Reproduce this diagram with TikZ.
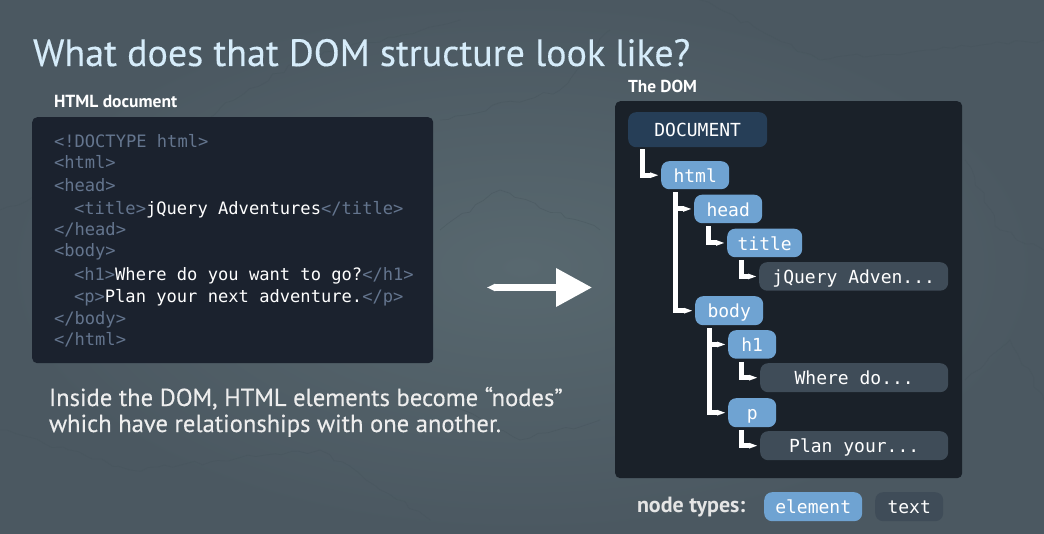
\documentclass[tikz,border=0pt]{standalone}
\usepackage{fontspec}
\usetikzlibrary{arrows.meta,decorations.pathmorphing}
\setmainfont{PT Sans}
\newfontfamily\medfont[FakeBold=0.25]{PT Sans}
\newfontfamily\mono{DejaVu Sans Mono}
\definecolor{bgin}{HTML}{58686F}
\definecolor{bgout}{HTML}{4B5861}
\definecolor{crack}{HTML}{46545C}
\definecolor{titlec}{HTML}{D6ECFA}
\definecolor{codebox}{HTML}{1B222E}
\definecolor{dombox}{HTML}{1A2129}
\definecolor{docc}{HTML}{263E57}
\definecolor{elemc}{HTML}{6FA3D2}
\definecolor{textc}{HTML}{3F4C58}
\definecolor{tagc}{HTML}{64758E}
\tikzset{
  x=1pt,y=-1pt,
  panel/.style={fill=#1,rounded corners=5pt},
  label/.style={anchor=base west,inner sep=0pt,outer sep=0pt,text=white},
  codeline/.style={label,text=tagc,font=\mono\fontsize{17.1}{20}\selectfont},
  tnode/.style={rounded corners=8pt,inner sep=0pt,text=white,font=\mono\fontsize{18}{21}\selectfont,text depth=0pt,text height=14.5pt,align=center},
  elemnode/.style={tnode,fill=elemc},
  textnode/.style={tnode,fill=textc},
  conn/.style={draw=white,line width=5pt,-{Triangle[length=9pt,width=5pt]},shorten >=2pt},
  texture/.style={draw=crack,opacity=.45,line width=.7pt,decorate,decoration={random steps,segment length=9pt,amplitude=2.5pt}},
}
\pgfmathsetseed{7}
\begin{document}
\begin{tikzpicture}
\useasboundingbox (0,0) rectangle (1044,534);
\shade[inner color=bgin,outer color=bgout] (0,0) rectangle (1044,534);
% background texture
\draw[texture] (0,210) -- (120,170) -- (300,60) -- (460,20);
\draw[texture] (440,120) -- (560,90) -- (610,30);
\draw[texture] (440,400) -- (520,440) -- (600,420);
\draw[texture] (0,430) -- (130,470) -- (320,450) -- (430,520);
\draw[texture] (965,160) -- (1000,230) -- (1044,250);
\draw[texture] (965,380) -- (1010,340) -- (1044,400);
\draw[texture] (700,0) -- (820,60) -- (1044,40);
\draw[texture] (440,230) -- (500,190) -- (600,230);
% titles
\node[label,text=titlec,font=\medfont\fontsize{38}{44}\selectfont] (title text) at (33,66) {What does that DOM structure look like?};
\node[label,font=\bfseries\fontsize{17.5}{20}\selectfont] (html head) at (54,108) {HTML document};
\node[label,font=\bfseries\fontsize{17.3}{20}\selectfont] (dom head) at (628,93) {The DOM};
% code panel
\node[panel=codebox,anchor=north west,minimum width=401pt,minimum height=246pt,inner sep=0pt] (code panel) at (32,117) {};
\node[codeline] (c1) at (54,148) {<!DOCTYPE html>};
\node[codeline] (c2) at (54,169) {<html>};
\node[codeline] (c3) at (54,191.5) {<head>};
\node[codeline] (c4) at (74,214.5) {<title>\textcolor{white}{jQuery Adventures}</title>};
\node[codeline] (c5) at (54,236) {</head>};
\node[codeline] (c6) at (54,257) {<body>};
\node[codeline] (c7) at (74,280.5) {<h1>\textcolor{white}{Where do you want to go?}</h1>};
\node[codeline] (c8) at (74,302.5) {<p>\textcolor{white}{Plan your next adventure.}</p>};
\node[codeline] (c9) at (54,324.5) {</body>};
\node[codeline] (c10) at (54,345.5) {</html>};
% caption
\node[label,text=white!93!black,font=\medfont\fontsize{24.6}{28}\selectfont] (cap1) at (49,406) {Inside the DOM, HTML elements become “nodes”};
\node[label,text=white!93!black,font=\medfont\fontsize{24.6}{28}\selectfont] (cap2) at (49,432) {which have relationships with one another.};
% big arrow
\coordinate (arrow start) at (487,287.5);
\coordinate (arrow tip) at (592,287.5);
\draw[line width=7pt,draw=white,fill=white,{Triangle[length=8pt,width=7pt]}-{Triangle[length=36pt,width=37pt]}] (arrow start) -- (arrow tip);
% DOM panel
\node[panel=dombox,anchor=north west,minimum width=347pt,minimum height=377pt,inner sep=0pt] (dom panel) at (615,101) {};
\node[tnode,fill=docc,anchor=north west,minimum width=139pt,minimum height=35pt] (document) at (628,112) {DOCUMENT};
\node[elemnode,anchor=north west,minimum width=68pt,minimum height=28pt] (html) at (661,161) {html};
\node[elemnode,anchor=north west,minimum width=68pt,minimum height=28.5pt] (head) at (694,194.5) {head};
\node[elemnode,anchor=north west,minimum width=75pt,minimum height=28.5pt] (titlenode) at (727,228.5) {title};
\node[textnode,anchor=north west,minimum width=189pt,minimum height=28.5pt] (jq) at (759,262) {jQuery Adven...};
\node[elemnode,anchor=north west,minimum width=68pt,minimum height=29pt] (body) at (695,296) {body};
\node[elemnode,anchor=north west,minimum width=48pt,minimum height=28.5pt] (h1) at (728,330) {h1};
\node[textnode,anchor=north west,minimum width=188pt,minimum height=29pt] (where) at (760,363) {Where do...};
\node[elemnode,anchor=north west,minimum width=48pt,minimum height=29pt] (p) at (728,398) {p};
\node[textnode,anchor=north west,minimum width=188pt,minimum height=29pt] (plan) at (760,431) {Plan your...};
% connectors
\draw[conn,shorten <=2pt] ([xshift=14pt]document.south west) |- (html.west);
\draw[conn,shorten <=3pt] ([xshift=14pt]html.south west) |- (head.west);
\draw[conn,shorten <=3pt] ([xshift=14pt]html.south west) |- (body.west);
\draw[conn,shorten <=3pt] ([xshift=14pt]head.south west) |- (titlenode.west);
\draw[conn,shorten <=3pt] ([xshift=14pt]titlenode.south west) |- (jq.west);
\draw[conn,shorten <=3pt] ([xshift=14pt]body.south west) |- (h1.west);
\draw[conn,shorten <=3pt] ([xshift=14pt]body.south west) |- (p.west);
\draw[conn,shorten <=3pt] ([xshift=13pt]h1.south west) |- (where.west);
\draw[conn,shorten <=3pt] ([xshift=13pt]p.south west) |- (plan.west);
% legend
\node[label,text=white!90!black,font=\bfseries\fontsize{22}{25}\selectfont] (types) at (637,512) {node types:};
\node[elemnode,anchor=north west,minimum width=98pt,minimum height=29pt] (legend element) at (764,492) {element};
\node[textnode,anchor=north west,minimum width=68pt,minimum height=29pt] (legend text) at (875,492) {text};
\end{tikzpicture}
\end{document}
